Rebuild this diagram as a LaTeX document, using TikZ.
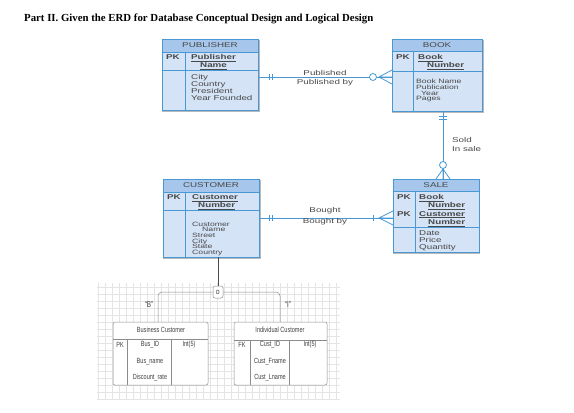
\documentclass[tikz,border=0pt]{standalone}
\usepackage{fontspec}
\setmainfont{Liberation Serif}
\newfontfamily\erfont[FakeStretch=1.4]{Liberation Sans}
\newfontfamily\narrowfont[FakeStretch=0.74]{Liberation Sans}
\usetikzlibrary{shadows}
\definecolor{erblue}{RGB}{72,152,214}
\definecolor{erhead}{RGB}{166,198,235}
\definecolor{erbody}{RGB}{212,227,246}
\definecolor{ertext}{RGB}{72,72,72}
\definecolor{gridgray}{RGB}{228,228,228}
\tikzset{
  entity/.style={draw=erblue, line width=0.8pt, fill=erbody, inner sep=0pt,
    drop shadow={shadow xshift=0.6pt, shadow yshift=-1.6pt, shadow scale=1.02, fill=black!55}},
  headbox/.style={fill=erhead, draw=erblue, line width=0.8pt},
  sep/.style={draw=erblue, line width=0.6pt},
  htext/.style={font=\erfont\fontsize{7}{7}\selectfont, text=ertext, inner sep=0pt},
  pktext/.style={font=\erfont\bfseries\fontsize{7}{7}\selectfont, text=ertext, inner sep=0pt, anchor=north west},
  keytext/.style={font=\erfont\bfseries\fontsize{7}{6.6}\selectfont, text=ertext, inner sep=0pt, align=left, anchor=north west},
  attrtext/.style={font=\erfont\fontsize{7}{7.2}\selectfont, text=ertext, inner sep=0pt, align=left, anchor=north west},
  smalltext/.style={font=\erfont\fontsize{6.2}{5.7}\selectfont, text=ertext, inner sep=0pt, align=left, anchor=north west},
  rel/.style={draw=erblue, line width=0.8pt},
  reltext/.style={font=\erfont\fontsize{7}{7}\selectfont, text=ertext, inner sep=0pt},
  tbl/.style={draw=black!45, fill=white, rounded corners=2pt, line width=0.5pt, inner sep=0pt},
  tline/.style={draw=black!45, line width=0.5pt},
  ttext/.style={font=\narrowfont\fontsize{7.5}{7.5}\selectfont, text=black!75, inner sep=0pt},
  bline/.style={draw=black!45, line width=0.5pt, rounded corners=4pt},
}

\begin{document}
\begin{tikzpicture}[x=1pt,y=-1pt]
\useasboundingbox (0,0) rectangle (574,413);
\node[anchor=base west, font=\bfseries\fontsize{10.8}{12}\selectfont, inner sep=0pt] (title) at (24,21.5)
  {Part II. Given the ERD for Database Conceptual Design and Logical Design};

% publisher
\node[entity, minimum width=96pt, minimum height=71pt] (pub) at (210,74.5) {};
\filldraw[headbox] (162,39) rectangle (258,52);
\draw[sep] (162,70) -- (258,70) (185,52) -- (185,110);
\node[htext] (pubt) at (210,45.5) {PUBLISHER};
\node[pktext] (pubpk) at (166,54.5) {PK};
\node[keytext] (pubkey) at (191,54.5) {\underline{Publisher}\\\hspace*{9pt}\underline{Name}};
\node[attrtext] (pubat) at (191,74) {City\\Country\\President\\Year Founded};

% book
\node[entity, minimum width=90pt, minimum height=72pt] (book) at (437,75) {};
\filldraw[headbox] (392,39) rectangle (482,51);
\draw[sep] (392,71) -- (482,71) (413,51) -- (413,111);
\node[htext] (bookt) at (437,45) {BOOK};
\node[pktext] (bookpk) at (396,54.5) {PK};
\node[keytext] (bookkey) at (418,54.5) {\underline{Book}\\\hspace*{9pt}\underline{Number}};
\node[smalltext] (bookat) at (416,79) {Book Name\\Publication\\\hspace*{5pt}Year\\Pages};

% customer
\node[entity, minimum width=96pt, minimum height=78pt] (cust) at (211,218) {};
\filldraw[headbox] (163,179) rectangle (259,192);
\draw[sep] (163,210) -- (259,210) (185,192) -- (185,257);
\node[htext] (custt) at (211,185.5) {CUSTOMER};
\node[pktext] (custpk) at (167,194.5) {PK};
\node[keytext] (custkey) at (192,194.5) {\underline{Customer}\\\hspace*{6pt}\underline{Number}};
\node[smalltext] (custat) at (192,221.5) {Customer\\\hspace*{10pt}Name\\Street\\City\\State\\Country};

% sale
\node[entity, minimum width=86pt, minimum height=73pt] (sale) at (436,215.5) {};
\filldraw[headbox] (393,179) rectangle (479,191);
\draw[sep] (393,227) -- (479,227) (415,191) -- (415,252);
\node[htext] (salet) at (436,185) {SALE};
\node[pktext] (salepk1) at (397,194) {PK};
\node[pktext] (salepk2) at (397,211) {PK};
\node[keytext] (salekey1) at (419,194) {\underline{Book}\\\hspace*{9pt}\underline{Number}};
\node[keytext] (salekey2) at (419,211) {\underline{Customer}\\\hspace*{9pt}\underline{Number}};
\node[attrtext] (saleat) at (419,230) {Date\\Price\\Quantity};

% published
\draw[rel] ([yshift=-2.5pt]pub.east) -- ([yshift=-2pt]book.west);
\draw[rel] (269,74) -- (269,80) (272,74) -- (272,80);
\draw[rel, fill=white] (373,77) circle (3.5pt);
\draw[rel] (392,70) -- (379,77) -- (392,84) (379,77) -- (392,77);
\node[reltext] (pubr1) at (325,72.5) {Published};
\node[reltext] (pubr2) at (325,83) {Published by};

% sold
\draw[rel] ([xshift=6pt]book.south) -- ([xshift=7pt]sale.north);
\draw[rel] (439,116) -- (447,116) (439,119) -- (447,119);
\draw[rel, fill=white] (443,165) circle (3.5pt);
\draw[rel] (436,179) -- (443,169) -- (450,179) (443,169) -- (443,179);
\node[reltext, anchor=west] (sold1) at (452,140) {Sold};
\node[reltext, anchor=west] (sold2) at (452,149) {In sale};

% bought
\draw[rel] (cust.east) -- ([yshift=-2.5pt]sale.west);
\draw[rel] (269,215) -- (269,221) (272,215) -- (272,221);
\draw[rel] (373,215) -- (373,221);
\draw[rel] (393,211) -- (379,218) -- (393,225) (379,218) -- (393,218);
\node[reltext] (bought1) at (325,211) {Bought};
\node[reltext] (bought2) at (325,222) {Bought by};

% subtypes
\draw[gridgray, line width=0.4pt, step=7pt] (97,283) grid (340,400);
\node[tbl, minimum width=10pt, minimum height=12pt, font=\narrowfont\fontsize{6}{6}\selectfont] (dsym) at (218,292) {D};
\draw[black!70, line width=0.6pt] (dsym.north |- cust.south) -- (dsym.north);
\coordinate (bcorner) at (158,290);
\coordinate (icorner) at (280,290);

\node[tbl, minimum width=95pt, minimum height=63pt] (bus) at (160.5,353.5) {};
\draw[tline] (113,339) -- (208,339) (127,339) -- (127,385) (171,339) -- (171,385);
\node[ttext] (bust) at (161,329.5) {Business Customer};
\node[ttext] (buspk) at (120,345) {PK};
\node[ttext] (busid) at (150,345) {Bus\_ID};
\node[ttext] (bustype) at (189,345) {Int(5)};
\node[ttext] (busname) at (150,361.5) {Bus\_name};
\node[ttext] (busrate) at (150,378) {Discount\_rate};

\node[tbl, minimum width=93pt, minimum height=63pt] (ind) at (280.5,353.5) {};
\draw[tline] (234,340) -- (327,340) (250,340) -- (250,385) (289,340) -- (289,385);
\node[ttext] (indt) at (280,329.5) {Individual Customer};
\node[ttext] (indfk) at (242,345) {FK};
\node[ttext] (indid) at (270,345) {Cust\_ID};
\node[ttext] (indtype) at (310,345) {Int(5)};
\node[ttext] (indf) at (270,361.5) {Cust\_Fname};
\node[ttext] (indl) at (270,378) {Cust\_Lname};

\draw[bline] (bus.north -| bcorner) |- (dsym.west);
\draw[bline] (dsym.east) -| (ind.north -| icorner);
\node[ttext, font=\narrowfont\fontsize{8.5}{8.5}\selectfont] (blabel) at (149,305) {“B”};
\node[ttext, font=\narrowfont\fontsize{8.5}{8.5}\selectfont] (ilabel) at (288,305) {“I”};
\end{tikzpicture}
\end{document}
